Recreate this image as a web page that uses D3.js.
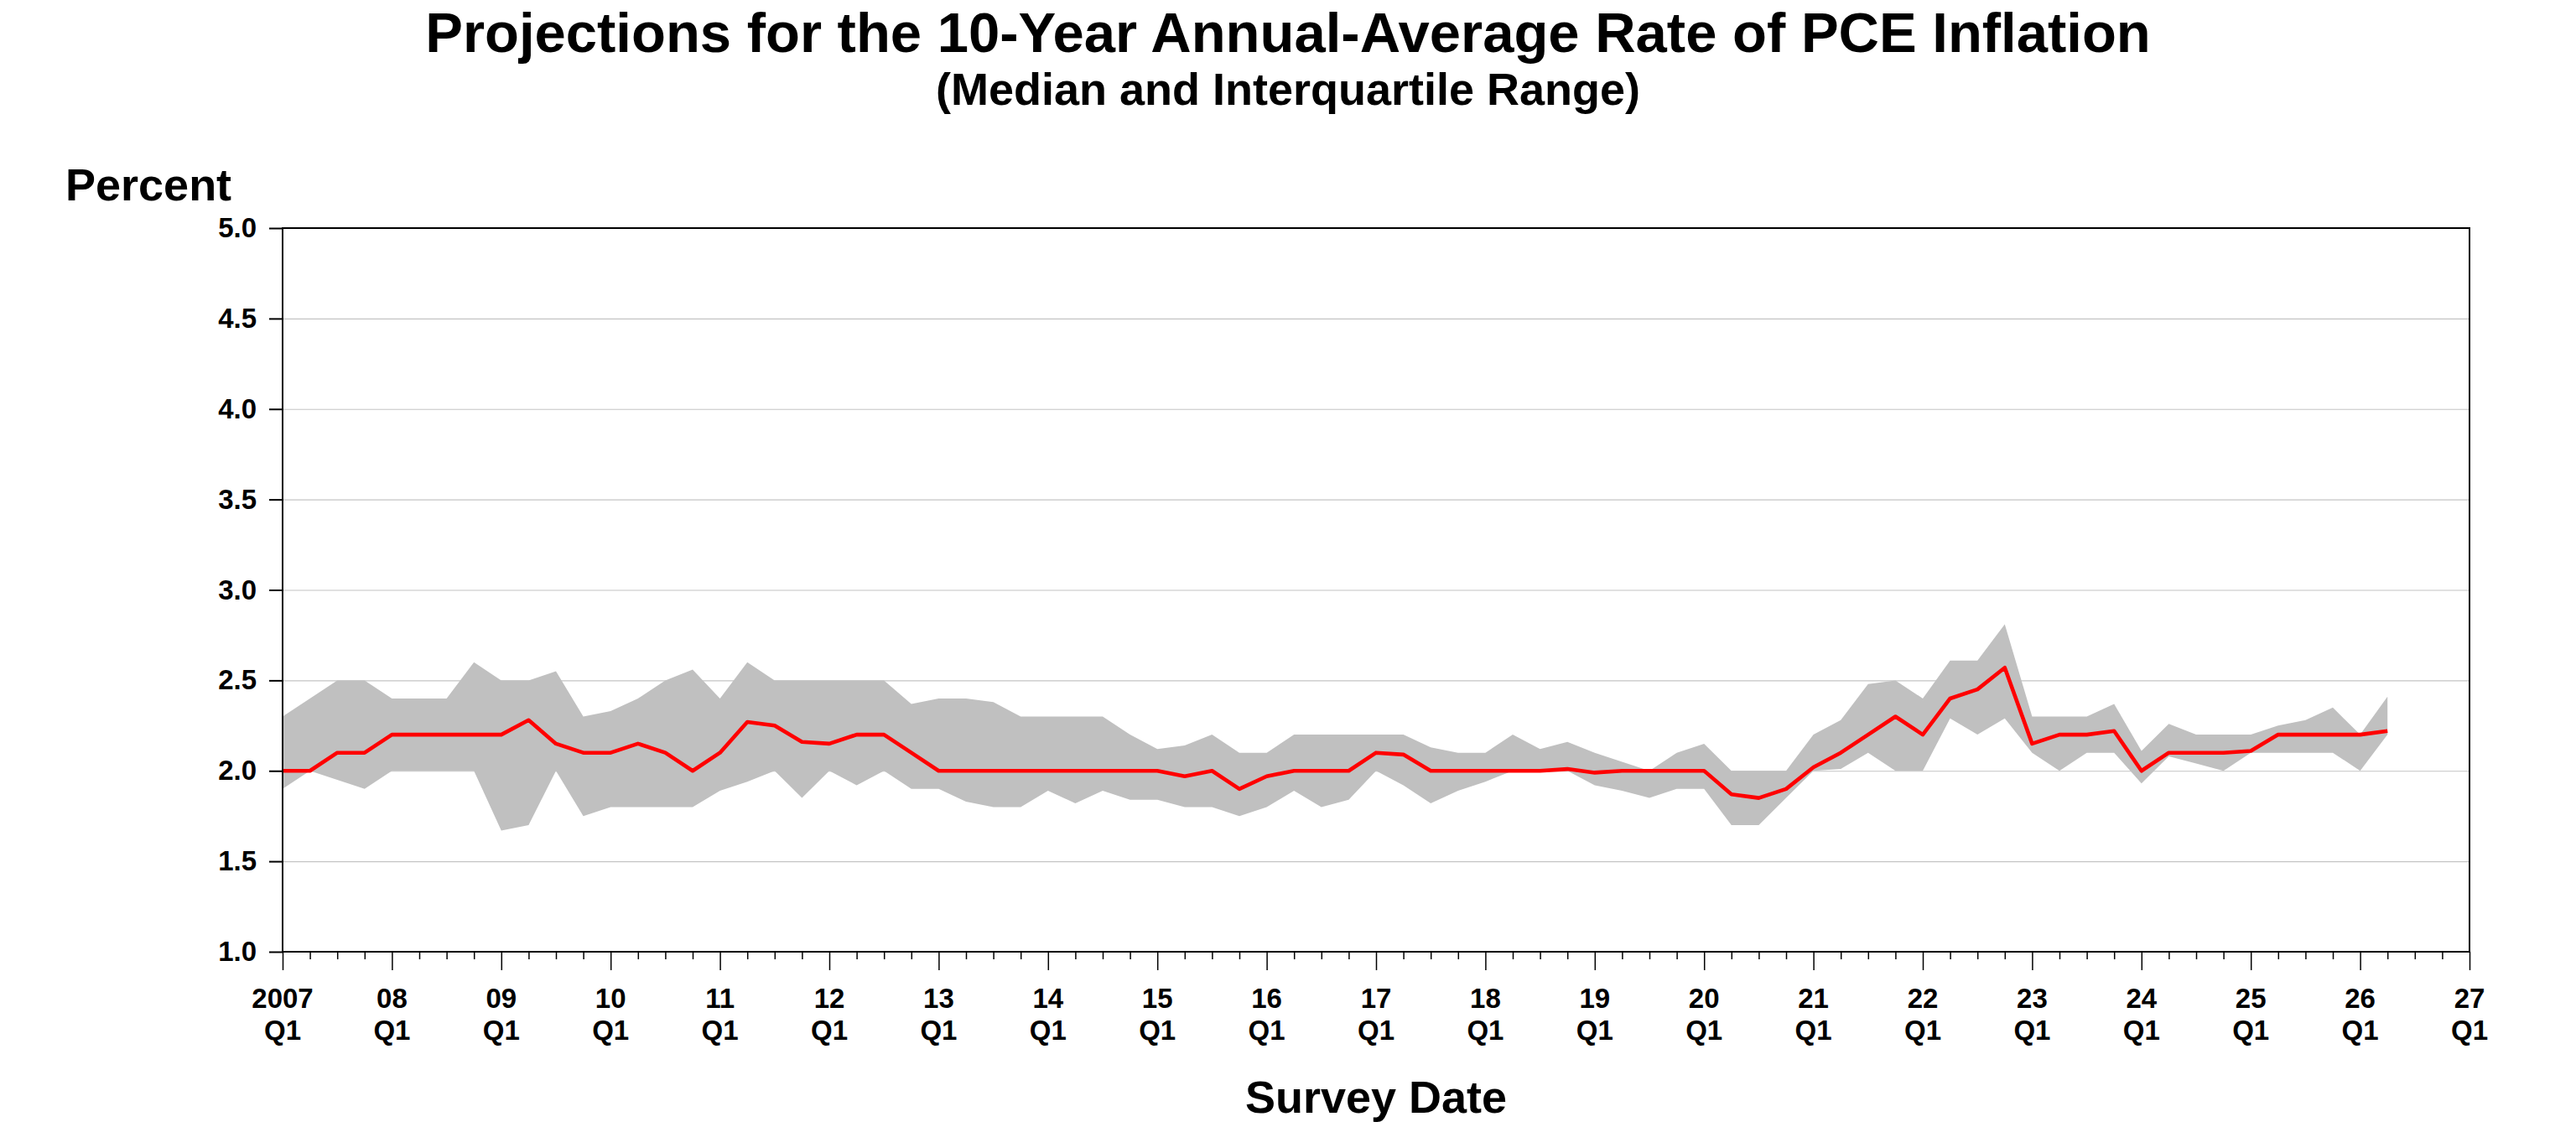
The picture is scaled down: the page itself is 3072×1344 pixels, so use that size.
<!DOCTYPE html>
<html>
<head>
<meta charset="utf-8">
<script src="https://cdn.jsdelivr.net/npm/d3@7"></script>
<style>
  body { margin: 0; background: #fff; }
  svg { display: block; font-family: "Liberation Sans", Arial, sans-serif; font-weight: bold; }
</style>
</head>
<body>
<div id="chart"></div>
<script>
// survey quarters start at 2007 Q1, one value per quarter
var startYear = 2007;

var median = [2.0, 2.0, 2.1, 2.1, 2.2, 2.2, 2.2, 2.2, 2.2, 2.28,
  2.15, 2.1, 2.1, 2.15, 2.1, 2.0, 2.1, 2.27, 2.25, 2.16,
  2.15, 2.2, 2.2, 2.1, 2.0, 2.0, 2.0, 2.0, 2.0, 2.0,
  2.0, 2.0, 2.0, 1.97, 2.0, 1.9, 1.97, 2.0, 2.0, 2.0,
  2.1, 2.09, 2.0, 2.0, 2.0, 2.0, 2.0, 2.01, 1.99, 2.0,
  2.0, 2.0, 2.0, 1.87, 1.85, 1.9, 2.02, 2.1, 2.2, 2.3,
  2.2, 2.4, 2.45, 2.57, 2.15, 2.2, 2.2, 2.22, 2.0, 2.1,
  2.1, 2.1, 2.11, 2.2, 2.2, 2.2, 2.2, 2.22];

var upperQuartile = [2.3, 2.4, 2.5, 2.5, 2.4, 2.4, 2.4, 2.6, 2.5, 2.5,
  2.55, 2.3, 2.33, 2.4, 2.5, 2.56, 2.4, 2.6, 2.5, 2.5,
  2.5, 2.5, 2.5, 2.37, 2.4, 2.4, 2.38, 2.3, 2.3, 2.3,
  2.3, 2.2, 2.12, 2.14, 2.2, 2.1, 2.1, 2.2, 2.2, 2.2,
  2.2, 2.2, 2.13, 2.1, 2.1, 2.2, 2.12, 2.16, 2.1, 2.05,
  2.0, 2.1, 2.15, 2.0, 2.0, 2.0, 2.2, 2.28, 2.48, 2.5,
  2.4, 2.61, 2.61, 2.81, 2.3, 2.3, 2.3, 2.37, 2.11, 2.26,
  2.2, 2.2, 2.2, 2.25, 2.28, 2.35, 2.2, 2.41];

var lowerQuartile = [1.9, 2.0, 1.95, 1.9, 2.0, 2.0, 2.0, 2.0, 1.67, 1.7,
  2.0, 1.75, 1.8, 1.8, 1.8, 1.8, 1.89, 1.94, 2.0, 1.85,
  2.0, 1.92, 2.0, 1.9, 1.9, 1.83, 1.8, 1.8, 1.89, 1.82,
  1.89, 1.84, 1.84, 1.8, 1.8, 1.75, 1.8, 1.89, 1.8, 1.84,
  2.0, 1.92, 1.82, 1.89, 1.94, 2.0, 2.0, 2.0, 1.92, 1.89,
  1.85, 1.9, 1.9, 1.7, 1.7, 1.85, 2.0, 2.01, 2.1, 2.0,
  2.0, 2.29, 2.2, 2.29, 2.1, 2.0, 2.1, 2.1, 1.93, 2.08,
  2.04, 2.0, 2.1, 2.1, 2.1, 2.1, 2.0, 2.2];

// axis labels
var yearLabels = ["2007", "08", "09", "10", "11", "12", "13", "14", "15", "16",
  "17", "18", "19", "20", "21", "22", "23", "24", "25", "26", "27"];
var yTickValues = [1.0, 1.5, 2.0, 2.5, 3.0, 3.5, 4.0, 4.5, 5.0];

var W = 3072, H = 1344;
var margin = {top: 272, right: 127, bottom: 209, left: 337},
    width = W - margin.left - margin.right,
    height = H - margin.top - margin.bottom;

var svg = d3.select("#chart")
  .append("svg")
    .attr("width", W)
    .attr("height", H);

var g = svg.append("g")
    .attr("transform", "translate(" + margin.left + "," + margin.top + ")");

var nQuarters = (yearLabels.length - 1) * 4;

var x = d3.scaleLinear()
    .domain([0, nQuarters])
    .range([0, width]);

var y = d3.scaleLinear()
    .domain([1, 5])
    .range([height, 0]);

var data = median.map(function(d, i) {
  return {q: i, median: d, lo: lowerQuartile[i], hi: upperQuartile[i]};
});

// horizontal grid lines
g.append("g")
    .attr("class", "grid")
    .call(d3.axisLeft(y)
      .tickValues(yTickValues.slice(1, -1))
      .tickSize(-width)
      .tickFormat(""))
    .call(function(s) { s.select(".domain").remove(); });

g.selectAll(".grid line")
    .style("stroke", "#c4c4c4")
    .style("stroke-width", 1.2);

// interquartile band
g.append("path")
    .datum(data)
    .attr("fill", "#c0c0c0")
    .attr("d", d3.area()
      .x(function(d) { return x(d.q); })
      .y0(function(d) { return y(d.lo); })
      .y1(function(d) { return y(d.hi); }));

// median line
g.append("path")
    .datum(data)
    .attr("fill", "none")
    .attr("stroke", "#ff0000")
    .attr("stroke-width", 4.6)
    .attr("stroke-linejoin", "round")
    .attr("d", d3.line()
      .x(function(d) { return x(d.q); })
      .y(function(d) { return y(d.median); }));

// frame
g.append("rect")
    .attr("width", width)
    .attr("height", height)
    .attr("fill", "none")
    .attr("stroke", "#000")
    .attr("stroke-width", 2);

// Y axis
var yAxis = g.append("g")
    .call(d3.axisLeft(y)
      .tickValues(yTickValues)
      .tickSize(16)
      .tickPadding(15)
      .tickFormat(d3.format(".1f")));
yAxis.select(".domain").remove();
yAxis.selectAll("line").attr("stroke-width", 2);
yAxis.selectAll("text")
    .style("font-size", "33px")
    .style("font-weight", "bold")
    .attr("fill", "#000");

// X axis: quarter ticks and year ticks
var quarterTicks = d3.range(0, nQuarters + 1).filter(function(q) { return q % 4 !== 0; });
var yearTicks = d3.range(0, nQuarters + 1, 4);

var xMinor = g.append("g")
    .attr("transform", "translate(0," + height + ")")
    .call(d3.axisBottom(x).tickValues(quarterTicks).tickSize(9).tickFormat(""));
xMinor.select(".domain").remove();
xMinor.selectAll("line").attr("stroke-width", 1.5);

var xMajor = g.append("g")
    .attr("transform", "translate(0," + height + ")")
    .call(d3.axisBottom(x).tickValues(yearTicks).tickSize(22).tickFormat(""));
xMajor.select(".domain").remove();
xMajor.selectAll("line").attr("stroke-width", 1.5);

var xLabels = g.append("g")
    .selectAll("text")
    .data(yearTicks)
    .enter()
    .append("text")
      .attr("x", function(d) { return x(d); })
      .attr("y", height + 67)
      .attr("text-anchor", "middle")
      .style("font-size", "33px");

xLabels.append("tspan")
    .attr("x", function(d) { return x(d); })
    .text(function(d, i) { return yearLabels[i]; });
xLabels.append("tspan")
    .attr("x", function(d) { return x(d); })
    .attr("dy", 38)
    .text("Q1");

// titles
svg.append("text")
    .attr("x", W / 2)
    .attr("y", 62)
    .attr("text-anchor", "middle")
    .style("font-size", "67px")
    .text("Projections for the 10-Year Annual-Average Rate of PCE Inflation");

svg.append("text")
    .attr("x", W / 2)
    .attr("y", 125)
    .attr("text-anchor", "middle")
    .style("font-size", "54px")
    .text("(Median and Interquartile Range)");

svg.append("text")
    .attr("x", 78)
    .attr("y", 239)
    .style("font-size", "54px")
    .text("Percent");

svg.append("text")
    .attr("x", margin.left + width / 2)
    .attr("y", 1327)
    .attr("text-anchor", "middle")
    .style("font-size", "54px")
    .text("Survey Date");
</script>
</body>
</html>
